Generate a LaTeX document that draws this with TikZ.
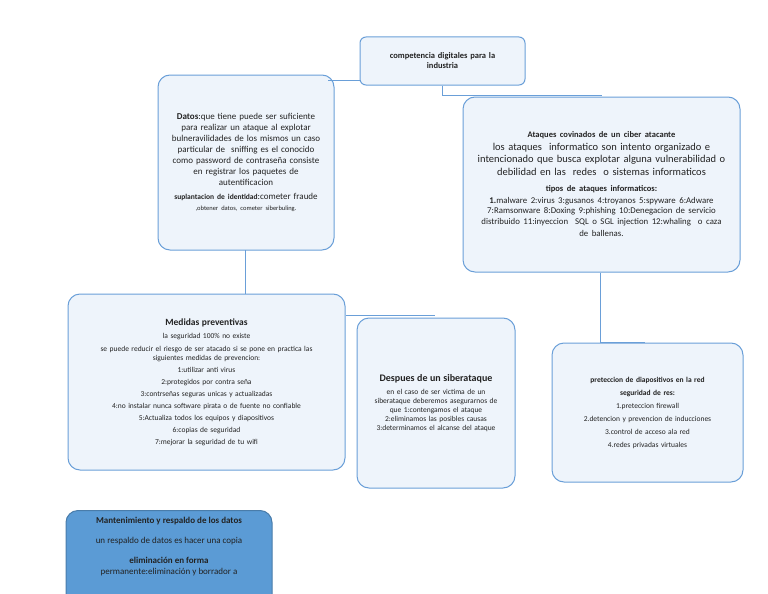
\documentclass[tikz,border=0pt]{standalone}
\usepackage{fontspec}
\setmainfont{Carlito}
\definecolor{bord}{HTML}{6A9FD8}
\definecolor{bfill}{HTML}{EEF4FB}
\definecolor{mfill}{HTML}{5B9BD5}
\definecolor{txt}{HTML}{222222}
\begin{document}
\begin{tikzpicture}[x=1pt,y=-1pt,
  bx/.style={draw=bord, fill=bfill, line width=1pt, rounded corners=12pt, align=center, inner sep=0pt, text=txt},
  ln/.style={draw=bord, line width=0.9pt}]
\useasboundingbox (0,0) rectangle (768,594);
\clip (0,0) rectangle (768,594);
\hyphenpenalty=10000 \exhyphenpenalty=10000
\node[bx, minimum width=165, minimum height=48, rounded corners=6pt, text width=140, font=\fontsize{8.5}{10}\selectfont\bfseries] (top) at (442.5,61) {competencia digitales para la\\industria};
\node[bx, minimum width=176, minimum height=175, text width=168, font=\fontsize{9}{11}\selectfont] (datos) at (246,162.5) {\textbf{Datos}:que tiene puede ser suficiente\\para realizar un ataque al explotar\\bulneravilidades de los mismos un caso\\particular de\ \ sniffing es el conocido\\como password de contraseña consiste\\en registrar los paquetes de\\autentificacion\\[3pt]{\fontsize{7.5}{9}\selectfont\bfseries suplantacion de identidad}:cometer fraude\\{\fontsize{6.5}{10}\selectfont ,obtener datos, cometer siberbuling.}};
\node[bx, minimum width=277, minimum height=175, text width=270, font=\fontsize{10.5}{12.5}\selectfont] (atq) at (601.5,184.5) {{\fontsize{8.5}{10}\selectfont\bfseries Ataques covinados de un ciber atacante}\\los ataques\ \ informatico son intento organizado e\\intencionado que busca explotar alguna vulnerabilidad o\\debilidad en las\ \ redes\ \ o sistemas informaticos\\[4pt]{\fontsize{8.5}{10}\selectfont\bfseries tipos de ataques informaticos:}\\[1pt]{\fontsize{8.8}{10.5}\selectfont\textbf{1.}malware 2:virus 3:gusanos 4:troyanos 5:spyware 6:Adware\\7:Ramsonware 8:Doxing 9:phishing 10:Denegacion de servicio\\distribuido 11:inyeccion\ \ SQL o SGL injection 12:whaling\ \ o caza\\de ballenas.}};
\node[bx, minimum width=277, minimum height=176, text width=270, font=\fontsize{7.5}{9}\selectfont] (med) at (206.5,382) {{\fontsize{9.5}{11}\selectfont\bfseries Medidas preventivas}\\[4pt]la seguridad 100\% no existe\\[4pt]se puede reducir el riesgo de ser atacado si se pone en practica las\\siguientes medidas de prevencion:\\[3pt]1:utilizar anti virus\\[3pt]2:protegidos por contra seña\\[3pt]3:contrseñas seguras unicas y actualizadas\\[3pt]4:no instalar nunca software pirata o de fuente no confiable\\[3pt]5:Actualiza todos los equipos y diapositivos\\[3pt]6:copias de seguridad\\[3pt]7:mejorar la seguridad de tu wifi};
\node[bx, minimum width=158, minimum height=170, text width=155, font=\fontsize{7.5}{9}\selectfont] (desp) at (436,403) {{\fontsize{10}{12}\selectfont\bfseries Despues de un siberataque}\\[4pt]en el caso de ser victima de un\\siberataque deberemos asegurarnos de\\que 1:contengamos el ataque\\2:eliminamos las posibles causas\\3:determinamos el alcanse del ataque};
\node[bx, minimum width=191, minimum height=139, text width=185, font=\fontsize{7.5}{9}\selectfont] (prot) at (647.5,412.5) {{\bfseries preteccion de diapositivos en la red\\[4pt]seguridad de res:}\\[4pt]1.preteccion firewall\\[4pt]2.detencion y prevencion de inducciones\\[4pt]3.control de acceso ala red\\[4pt]4.redes privadas virtuales};
\node[bx, draw=mfill!80!black, fill=mfill, minimum width=206, minimum height=100, anchor=north] (mant) at (169,510) {};
\node[anchor=north, align=center, font=\fontsize{9}{11}\selectfont, text=txt] (mtxt) at (169,514) {{\bfseries Mantenimiento y respaldo de los datos}\\[9pt]un respaldo de datos es hacer una copia\\[9pt]{\bfseries eliminación en forma}\\permanente:eliminación y borrador a};
\coordinate (d1) at (328,80);
\draw[ln] (d1) -- (top.west |- d1);
\coordinate (c1) at (442,95);
\draw[ln] (top.south -| c1) -- (c1) -- (602,95) coordinate (c2);
\coordinate (c5) at (245,250);
\draw[ln] (c5) -- (med.north -| c5);
\coordinate (c3) at (435,315);
\draw[ln] (med.east |- c3) -- (c3);
\coordinate (c4) at (600,342);
\draw[ln] (atq.south -| c4) -- (c4) -- (645,342);
\end{tikzpicture}
\end{document}
